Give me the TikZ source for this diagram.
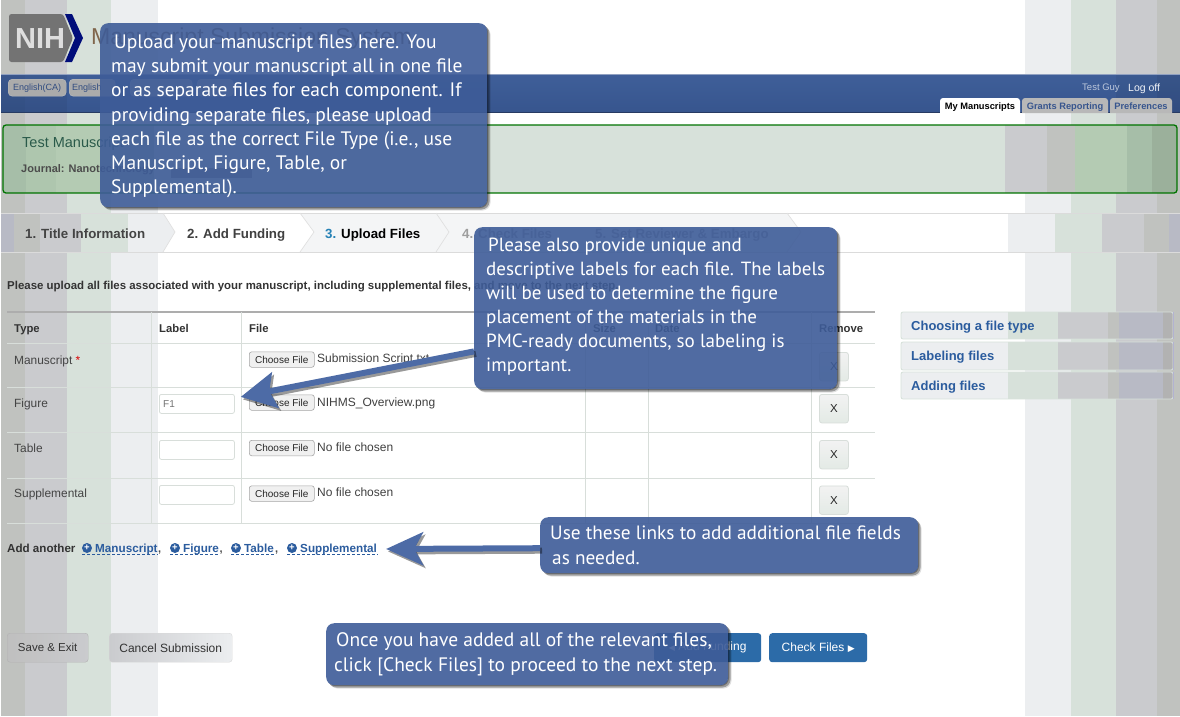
\documentclass[tikz,border=0pt]{standalone}
\usepackage{fontspec}
\setmainfont{Liberation Sans}
\newfontfamily\callfont{PT Sans}
\newfontfamily\symfont{DejaVu Sans}
\usetikzlibrary{arrows.meta,calc}
\newcommand{\fsz}[1]{\fontsize{#1}{#1}\selectfont}
\definecolor{sA}{HTML}{C0C2BF}
\definecolor{sB}{HTML}{CACBCE}
\definecolor{sC}{HTML}{D7E1DA}
\definecolor{sD}{HTML}{ECEEF0}
\definecolor{sE}{HTML}{B8BAC5}
\definecolor{gA}{HTML}{A6BEA8}
\definecolor{gB}{HTML}{AEC6AE}
\definecolor{gC}{HTML}{B4CBB3}
\definecolor{gD}{HTML}{9BB09B}
\definecolor{callblue}{HTML}{3E5C98}
\definecolor{arrblue}{HTML}{4D6BA6}
\definecolor{linkblue}{HTML}{2B5C9E}
\definecolor{grid}{HTML}{D8DEDA}
\definecolor{headA}{HTML}{3F5F99}
\definecolor{headB}{HTML}{37558E}
\definecolor{txtgrey}{HTML}{444444}
\definecolor{btnblue}{HTML}{2C6BA8}
\definecolor{tealtxt}{HTML}{2A5A4A}
\tikzset{
  lbl/.style={anchor=base west,inner sep=0pt,text=txtgrey,font=\fsz{11.9}},
  hdr/.style={lbl,text=black!80,font=\fsz{11.3}\bfseries},
  steplbl/.style={lbl,font=\fsz{13.3}\bfseries},
  fname/.style={lbl,text=black!75,font=\fsz{12}},
  inputbox/.style={draw=grid,fill=white,rounded corners=2pt,minimum width=75pt,minimum height=19pt,inner sep=0pt,line width=.8pt,anchor=north west},
  choosebtn/.style={draw=black!35,fill=black!6,rounded corners=2.5pt,minimum width=65pt,minimum height=15.5pt,inner sep=0pt,line width=.6pt,anchor=north west,font=\fsz{10},text=black!85},
  xbtn/.style={draw=grid,top color=white!95!black,bottom color=sC!70!white,rounded corners=2.5pt,minimum width=29pt,minimum height=28.5pt,inner sep=0pt,line width=.8pt,anchor=north west,font=\fsz{11.5},text=black!85},
  sidebox/.style={draw=sC,rounded corners=2pt,line width=.8pt},
  sidelbl/.style={lbl,text=linkblue,font=\fsz{13}\bfseries},
  linklbl/.style={lbl,text=linkblue,font=\fsz{11.7}\bfseries},
  plusicon/.style={circle,fill=linkblue,minimum size=10pt,inner sep=0pt,text=white,font=\fsz{9.5}\bfseries},
  pill/.style={draw=black!25,fill=black!33,rounded corners=4pt,minimum height=17pt,inner sep=0pt,anchor=north west,text=headB!90!black,font=\fsz{9}},
  toplbl/.style={anchor=base,inner sep=0pt,font=\fsz{9.3}\bfseries},
  tabfill/.style={rounded corners=3pt},
  callout/.style={fill=callblue,fill opacity=.9,rounded corners=8pt,inner sep=0pt,anchor=north west},
  calltext/.style={anchor=north west,inner sep=0pt,text=white,align=left},
  botbtn/.style={rounded corners=3pt,inner sep=0pt,minimum height=29pt,anchor=north west,font=\fsz{12}},
  arrA/.style={line width=6pt,-{Stealth[length=35pt,width=36pt,inset=6pt]}},
  arrB/.style={line width=6pt,-{Stealth[length=37pt,width=33pt,inset=9pt]}},
}
\begin{document}
\begin{tikzpicture}[x=1pt,y=-1pt]
\useasboundingbox (0,0) rectangle (1180,716);
% page stripes
\fill[white] (0,0) rectangle (1180,716);
\foreach \a/\b/\c in {1/25/sA,25/67/sB,67/111/sC,111/158/sD,1025/1071/sD,1071/1116/sC,1116/1157/sB,1157/1180/sA}
  \fill[\c] (\a,0) rectangle (\b,716);
% header band
\shade[top color=headA,bottom color=headB] (1,74) rectangle (1180,112);
\fill[black,opacity=.08] (1,74) rectangle (25,112);
\fill[black,opacity=.05] (25,74) rectangle (67,112);
\fill[black,opacity=.10] (1157,74) rectangle (1180,112);
\fill[black,opacity=.05] (1116,74) rectangle (1157,112);
\draw[headB!55!white,line width=.8pt] (1,74.5) -- (1180,74.5);
\draw[headB!70!black,line width=.8pt] (1,112) -- (1180,112);
% logo
\fill[black!55,rounded corners=2.5pt] (9,14) -- (63,14) -- (73,38) -- (63,62) -- (9,62) -- cycle;
\fill[blue!45!black!95!cyan] (65,14) -- (72,14) -- (83,38) -- (72,62) -- (65,62) -- (75,38) -- cycle;
\node[lbl,text=black!13,font=\fsz{29}\bfseries] (nih) at (15,48.5) {NIH};
\node[lbl,text=black!50!brown!80!white,font=\fsz{23}] (title) at (91,44) {Manuscript Submission System};
% language pills
\node[pill,minimum width=58pt] (pa) at (8,79) {English(CA)};
\node[pill,minimum width=46pt,text width=40pt] (pb) at (69,79) {English};
\node[pill,minimum width=62pt] (pc) at (130,79) {};
\node[pill,minimum width=36pt] (pd) at (197,79) {};
% user links + tabs
\node[lbl,text=white!65!headA,font=\fsz{9.5}] (guy) at (1082,90) {Test Guy};
\node[lbl,text=white!92!headA,font=\fsz{10.5}] (off) at (1128,91) {Log off};
\fill[white,tabfill] (940,113) -- (940,98) -- (1020,98) -- (1020,113);
\fill[black!28,tabfill] (1022,113) -- (1022,98) -- (1108,98) -- (1108,113);
\fill[black!28,tabfill] (1110,113) -- (1110,98) -- (1172,98) -- (1172,113);
\node[toplbl,text=black] (ta) at (980,109) {My Manuscripts};
\node[toplbl,text=headB] (tb) at (1065,109) {Grants Reporting};
\node[toplbl,text=headB] (tc) at (1141,109) {Preferences};
% green box
\begin{scope}
\clip[rounded corners=3pt] (3,125) rectangle (1177,193);
\fill[sC] (3,125) rectangle (1177,193);
\foreach \a/\b/\c in {3/26/gA,26/56/gB,56/154/gC,1005/1047/sB,1047/1075/sA,1075/1127/gC,1127/1152/gA,1152/1177/gD}
  \fill[\c] (\a,125) rectangle (\b,193);
\end{scope}
\draw[green!45!black,line width=1.3pt,rounded corners=3pt] (3,125) rectangle (1177,193);
\node[lbl,text=tealtxt,font=\fsz{14.5}] (tm) at (22,147) {Test Manuscript};
\node[lbl,text=black!70,font=\fsz{11}\bfseries] (jn) at (21,172) {Journal: Nanotechnology};
\fill[black!45] (171,168) rectangle (252,178);
% wizard bar
\foreach \a/\b/\c in {1/14/sE,14/40/sA,40/81/sB,81/128/sC,128/176/sD,1008/1055/sD,1055/1102/sC,1102/1144/sB,1144/1169/sA,1169/1180/sE}
  \fill[\c] (\a,213) rectangle (\b,252);
\fill[white] (176,213) rectangle (1008,252);
\fill[sD!60!white] (300,213) -- (787,213) -- (801,232) -- (787,252) -- (300,252) -- cycle;
\fill[white] (163,213) -- (300,213) -- (314,232) -- (300,252) -- (163,252) -- (175,232) -- cycle;
\draw[black!14,line width=.7pt] (1,213) -- (1180,213) (1,252) -- (1180,252);
\draw[black!12,line width=.7pt] (436,213) -- (449,232) -- (436,252);
\draw[black!12,line width=.7pt] (300,213) -- (314,232) -- (300,252);
\draw[black!12,line width=.7pt] (163,213) -- (175,232) -- (163,252);
\draw[black!12,line width=.7pt] (787,213) -- (801,232) -- (787,252);
\node[steplbl] (s1) at (25,238) {1. Title Information};
\node[steplbl,text=black!75] (s2) at (187,238) {2. Add Funding};
\node[steplbl,text=black] (s3) at (325,238) {{\color{btnblue!85!cyan}3.} Upload Files};
\node[steplbl,text=black!38] (s4) at (462,238) {4. Check Files};
\node[steplbl,text=black!38] (s5) at (595,238) {5. Set Reviewer \& Embargo};
% intro
\node[hdr,font=\fsz{11.45}\bfseries] (intro) at (7,289) {Please upload all files associated with your manuscript, including supplemental files, and move to the next step.};
% table
\draw[black!32,line width=1.6pt] (7,312) -- (875,312);
\foreach \yy in {343,387,432.5,478,523} \draw[grid,line width=.9pt] (7,\yy) -- (875,\yy);
\foreach \xx in {151,241,585,648,811} \draw[grid,line width=.9pt] (\xx,312) -- (\xx,523);
\node[hdr] (hA) at (14,332) {Type};
\node[hdr] (hB) at (159,332) {Label};
\node[hdr] (hC) at (249,332) {File};
\node[hdr] (hD) at (593,332) {Size};
\node[hdr] (hE) at (655,332) {Date};
\node[hdr] (hF) at (819,332) {Remove};
\node[lbl] (rA) at (14,364) {Manuscript {\color{red!85!black}*}};
\node[lbl] (rB) at (14,407) {Figure};
\node[lbl] (rC) at (14,452) {Table};
\node[lbl] (rD) at (14,497.5) {Supplemental};
\node[inputbox] (iB) at (159,394) {};
\node[inputbox] (iC) at (159,440) {};
\node[inputbox] (iD) at (159,485) {};
\node[lbl,text=black!55,font=\fsz{10}] (fone) at (163,407) {F1};
\node[choosebtn] (cA) at (249,351.5) {Choose File};
\node[choosebtn] (cB) at (249,394.5) {Choose File};
\node[choosebtn] (cC) at (249,440) {Choose File};
\node[choosebtn] (cD) at (249,485.5) {Choose File};
\node[fname] (fA) at (317,362) {Submission Script.txt};
\node[fname] (fB) at (317,406) {NIHMS\_Overview.png};
\node[fname] (fC) at (317,451) {No file chosen};
\node[fname] (fD) at (317,496) {No file chosen};
\node[xbtn] (xA) at (819,352) {X};
\node[xbtn] (xB) at (819,394) {X};
\node[xbtn] (xC) at (819,440) {X};
\node[xbtn] (xD) at (819,485.5) {X};
% add another
\node[hdr,font=\fsz{11.6}\bfseries] (add) at (7,552) {Add another};
\node[plusicon] (pA) at (87,548) {+};
\node[linklbl] (lA) at (95,552) {Manuscript};
\node[lbl,font=\fsz{11}\bfseries,text=black!70] (cmA) at (158,552) {,};
\node[plusicon] (pB) at (175,548) {+};
\node[linklbl] (lB) at (183,552) {Figure};
\node[lbl,font=\fsz{11}\bfseries,text=black!70] (cmB) at (219.5,552) {,};
\node[plusicon] (pC) at (236,548) {+};
\node[linklbl] (lC) at (244,552) {Table};
\node[lbl,font=\fsz{11}\bfseries,text=black!70] (cmC) at (275,552) {,};
\node[plusicon] (pD) at (292,548) {+};
\node[linklbl] (lD) at (300,552) {Supplemental};
\draw[linkblue,densely dashed,line width=.8pt] (82,554.5) -- (158,554.5) (170,554.5) -- (219,554.5) (231,554.5) -- (274,554.5) (287,554.5) -- (378,554.5);
% side boxes
\foreach \ta/\tb in {312/339,342/370,372/399}{
  \foreach \a/\b/\c in {901/1008/sD,1008/1058/sC,1058/1108/sB,1108/1119/sA,1119/1163/sE,1163/1173/black!30}
    \fill[\c] (\a,\ta) rectangle (\b,\tb);
  \draw[sidebox] (901,\ta) rectangle (1173,\tb);
  \draw[blue!40!black!30!white,line width=.7pt] (1173,\ta) -- (1173,\tb);
}
\node[sidelbl] (sA1) at (911,330.5) {Choosing a file type};
\node[sidelbl] (sA2) at (911,360) {Labeling files};
\node[sidelbl] (sA3) at (911,390) {Adding files};
% bottom buttons
\node[botbtn,draw=black!30,left color=black!25,right color=sB,minimum width=81pt,text=black!80,font=\fsz{11.5}] (save) at (7,633) {Save \& Exit};
\node[botbtn,draw=black!15,left color=sB,right color=sD,minimum width=123pt,text=black!80] (cancel) at (109,633) {Cancel Submission};
\node[botbtn,fill=btnblue,minimum width=107pt,text=white] (back) at (654,633) {{\symfont\fsz{8}◀} Add Funding};
\node[botbtn,fill=btnblue,minimum width=98pt,text=white] (check) at (769,633) {Check Files {\symfont\fsz{9}▶}};
% callout shadows (outside the bodies only)
\foreach \xa/\ya/\xb/\yb in {100/23/487/207,474/227/837/389,540/517/918/573,326/623/728/685}{
  \begin{scope}[even odd rule,rounded corners=8pt]
    \clip (-50,-50) rectangle (1230,766) (\xa,\ya) rectangle (\xb,\yb);
    \fill[black,opacity=.3] (\xa+1,\ya+1) rectangle (\xb+1,\yb+1);
    \fill[black,opacity=.3] (\xa+2.5,\ya+2.5) rectangle (\xb+2.5,\yb+2.5);
    \fill[black,opacity=.12] (\xa+3.5,\ya+3.5) rectangle (\xb+3.5,\yb+3.5);
  \end{scope}
}
% callouts
\node[callout,minimum width=387pt,minimum height=184pt] (c1) at (100,23) {};
\node[callout,minimum width=363pt,minimum height=162pt] (c2) at (474,227) {};
\node[callout,minimum width=378pt,minimum height=56pt] (c3) at (540,517) {};
\node[callout,minimum width=402pt,minimum height=62pt] (c4) at (326,623) {};
\node[calltext,font=\callfont\fontsize{19.5}{24.2}\selectfont] (t1) at (111,34.5) {\hspace*{3pt}Upload your manuscript files here. You\\may submit your manuscript all in one file\\or as separate files for each component. If\\providing separate files, please upload\\each file as the correct File Type (i.e., use\\Manuscript, Figure, Table, or\\Supplemental).};
\node[calltext,font=\callfont\fontsize{19.05}{24.1}\selectfont] (t2) at (486,237.5) {\hspace*{2pt}Please also provide unique and\\descriptive labels for each file. The labels\\will be used to determine the figure\\placement of the materials in the\\PMC-ready documents, so labeling is\\important.};
\node[calltext,font=\callfont\fontsize{19.3}{25}\selectfont] (t3) at (550,525.5) {Use these links to add additional file fields\\\hspace*{2pt}as needed.};
\node[calltext,font=\callfont\fontsize{19.5}{25}\selectfont] (t4) at (336,632.5) {Once you have added all of the relevant files,\\\hspace*{-2pt}click [Check Files] to proceed to the next step.};
% arrows
\coordinate (a1s) at ($(c2.south west)+(0,-38)$);
\coordinate (a1t) at ($(iB.east)+(6,-7)$);
\coordinate (a2s) at ($(c3.west)+(0,3)$);
\coordinate (a2t) at ($(lD.east)+(9,0)$);
\draw[arrA,black,opacity=.4] ([shift={(2,2.5)}]a1s) -- ([shift={(2,2.5)}]a1t);
\draw[arrB,black,opacity=.4] ([shift={(2,2.5)}]a2s) -- ([shift={(2,2.5)}]a2t);
\draw[arrA,arrblue] (a1s) -- (a1t);
\draw[arrB,arrblue] (a2s) -- (a2t);
\end{tikzpicture}
\end{document}
